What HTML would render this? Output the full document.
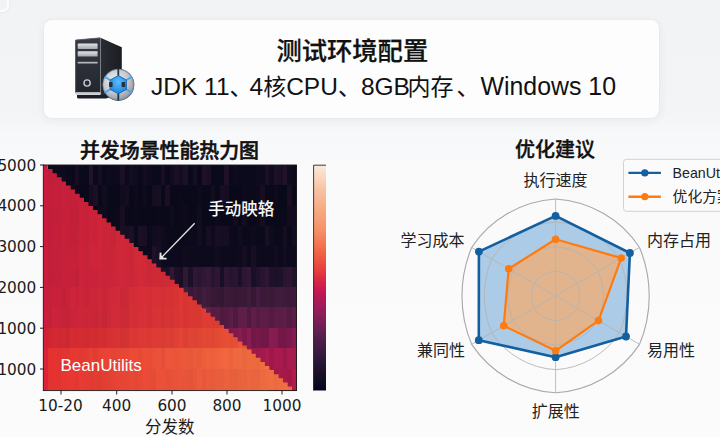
<!DOCTYPE html>
<html><head><meta charset="utf-8">
<style>
*{margin:0;padding:0;box-sizing:border-box}
html,body{width:720px;height:437px;overflow:hidden;background:linear-gradient(180deg,#f2f3f5 0px,#f3f4f6 112px,#f7f8f9 135px,#fafafb 175px,#fbfbfb 437px)}
body{position:relative;font-family:"Liberation Sans","Noto Sans CJK SC",sans-serif}
.ghost{position:absolute;left:-20px;top:-12px;width:29.3px;height:24.3px;border:2px solid #fdfdfe;border-radius:7px;box-shadow:0 1px 3px rgba(0,0,0,0.06)}
.card{position:absolute;left:44px;top:20px;width:614.5px;height:97.6px;background:#fdfdfd;border-radius:8px;box-shadow:0 2px 10px rgba(40,50,70,0.07),0 0 2px rgba(40,50,70,0.05)}
.t{position:absolute;white-space:nowrap;line-height:1}
.h1{left:276.4px;top:38.9px;font-size:25.3px;font-weight:500;-webkit-text-stroke:0.25px #111;color:#111;font-family:"Liberation Sans","Noto Sans CJK SC",sans-serif;letter-spacing:0px}
.h2{left:151px;top:74px;font-size:24.5px;color:#111;font-family:"Liberation Sans","Noto Sans CJK SC",sans-serif}
svg{position:absolute;left:0;top:0}
.c{font-size:23px;font-family:"Liberation Sans","Noto Sans CJK SC",sans-serif}
</style></head><body>
<div class="ghost"></div>
<div class="card"></div>
<svg width="720" height="437" viewBox="0 0 720 437">
<!-- server icon -->
<defs>
<linearGradient id="sf" x1="0" y1="0" x2="0" y2="1"><stop offset="0" stop-color="#363a43"/><stop offset="1" stop-color="#23262d"/></linearGradient>
<linearGradient id="ss" x1="0" y1="0" x2="1" y2="0"><stop offset="0" stop-color="#2a2d34"/><stop offset="1" stop-color="#1a1c21"/></linearGradient>
<linearGradient id="bay" x1="0" y1="0" x2="0" y2="1"><stop offset="0" stop-color="#e2e4e8"/><stop offset="1" stop-color="#a4a8ae"/></linearGradient>
<radialGradient id="ballg" cx="0.4" cy="0.35" r="0.7"><stop offset="0" stop-color="#eceef1"/><stop offset="0.6" stop-color="#c4c8ce"/><stop offset="1" stop-color="#8c9098"/></radialGradient>
<radialGradient id="hexg" cx="0.5" cy="0.35" r="0.7"><stop offset="0" stop-color="#5cbcff"/><stop offset="1" stop-color="#1c7fd6"/></radialGradient>
</defs>
<g>
  <polygon points="100.5,37.8 121.8,47.2 121.8,95 100.5,97" fill="url(#ss)"/>
  <polygon points="75.3,40 100.5,37.8 100.5,92.6 75.3,92.6" fill="url(#sf)"/>
  <polyline points="75.6,92.6 75.6,40.1 100.3,37.9" fill="none" stroke="#565a63" stroke-width="0.9"/>
  <line x1="100.5" y1="38" x2="100.5" y2="95" stroke="#7c8089" stroke-width="0.9"/>
  <rect x="77.7" y="43.4" width="19.9" height="5.5" rx="0.6" fill="url(#bay)"/>
  <rect x="77.7" y="51.2" width="19.9" height="5.4" rx="0.6" fill="url(#bay)"/>
  <rect x="77.7" y="61.8" width="19.9" height="1.7" fill="#b4b7bd"/>
  <circle cx="87.1" cy="83" r="3.1" fill="none" stroke="#c9ccd1" stroke-width="1.4"/>
  <rect x="75.3" y="92.2" width="25.4" height="2.5" rx="1.1" fill="#c5c8cd"/>
  <path d="M77,95 H101.5 L112,94 V96.8 L106,98.6 H78.6 Q77,98.6 77,97 Z" fill="#1b1e23"/>
</g>
<g>
  <circle cx="118.3" cy="84.7" r="16" fill="#1f3c62"/>
  <circle cx="118.3" cy="84.7" r="15.4" fill="url(#ballg)"/>
  <circle cx="118.3" cy="84.7" r="15.4" fill="none" stroke="#868b93" stroke-width="0.8"/>
  <path d="M118.3,68.8 V100.6" stroke="#1f3550" stroke-width="1.8"/>
  <path d="M104.5,76.7 L132.1,92.7 M104.5,92.7 L132.1,76.7" stroke="#3da4f4" stroke-width="1.7"/>
  <polygon points="118.3,75.6 126.4,80 126.4,89.4 118.3,93.8 110.2,89.4 110.2,80" fill="url(#hexg)" stroke="#1a6cc4" stroke-width="1"/>
  <rect x="109" y="82.1" width="3.6" height="4.9" rx="0.8" fill="#283038"/>
  <rect x="121.6" y="82.1" width="3.6" height="4.9" rx="0.8" fill="#283038"/>
</g>

<!-- heatmap -->
<g shape-rendering="crispEdges">
<clipPath id="stair"><polygon points="43.30,165.00 43.30,165.00 47.82,165.00 47.82,169.10 52.34,169.10 52.34,173.20 56.86,173.20 56.86,177.31 61.39,177.31 61.39,181.41 65.91,181.41 65.91,185.51 70.43,185.51 70.43,189.61 74.95,189.61 74.95,193.71 79.47,193.71 79.47,197.81 83.99,197.81 83.99,201.92 88.51,201.92 88.51,206.02 93.04,206.02 93.04,210.12 97.56,210.12 97.56,214.22 102.08,214.22 102.08,218.32 106.60,218.32 106.60,222.43 111.12,222.43 111.12,226.53 115.64,226.53 115.64,230.63 120.16,230.63 120.16,234.73 124.69,234.73 124.69,238.83 129.21,238.83 129.21,242.93 133.73,242.93 133.73,247.04 138.25,247.04 138.25,251.14 142.77,251.14 142.77,255.24 147.29,255.24 147.29,259.34 151.81,259.34 151.81,263.44 156.34,263.44 156.34,267.55 160.86,267.55 160.86,271.65 165.38,271.65 165.38,275.75 169.90,275.75 169.90,279.85 174.42,279.85 174.42,283.95 178.94,283.95 178.94,288.05 183.46,288.05 183.46,292.16 187.99,292.16 187.99,296.26 192.51,296.26 192.51,300.36 197.03,300.36 197.03,304.46 201.55,304.46 201.55,308.56 206.07,308.56 206.07,312.67 210.59,312.67 210.59,316.77 215.11,316.77 215.11,320.87 219.64,320.87 219.64,324.97 224.16,324.97 224.16,329.07 228.68,329.07 228.68,333.17 233.20,333.17 233.20,337.28 237.72,337.28 237.72,341.38 242.24,341.38 242.24,345.48 246.76,345.48 246.76,349.58 251.29,349.58 251.29,353.68 255.81,353.68 255.81,357.79 260.33,357.79 260.33,361.89 264.85,361.89 264.85,365.99 269.37,365.99 269.37,370.09 273.89,370.09 273.89,374.19 278.41,374.19 278.41,378.29 282.94,378.29 282.94,382.40 287.46,382.40 287.46,386.50 291.98,386.50 296.50,390.60 43.30,390.60"/></clipPath><rect x="47.82" y="165.00" width="4.82" height="20.60" fill="#0c0a1c"/>
<rect x="52.34" y="165.00" width="4.82" height="20.60" fill="#0b0a1c"/>
<rect x="56.86" y="165.00" width="4.82" height="20.60" fill="#0d0b1d"/>
<rect x="61.39" y="165.00" width="4.82" height="20.60" fill="#0e0b1e"/>
<rect x="65.91" y="165.00" width="4.82" height="20.60" fill="#0b0a1c"/>
<rect x="70.43" y="165.00" width="4.82" height="20.60" fill="#0b0a1c"/>
<rect x="74.95" y="165.00" width="4.82" height="20.60" fill="#180e24"/>
<rect x="79.47" y="165.00" width="4.82" height="20.60" fill="#0b0a1c"/>
<rect x="83.99" y="165.00" width="4.82" height="20.60" fill="#0b0a1c"/>
<rect x="88.51" y="165.00" width="4.82" height="20.60" fill="#22122a"/>
<rect x="93.04" y="165.00" width="4.82" height="20.60" fill="#0b0a1c"/>
<rect x="97.56" y="165.00" width="4.82" height="20.60" fill="#180e24"/>
<rect x="102.08" y="165.00" width="4.82" height="20.60" fill="#0b0a1c"/>
<rect x="106.60" y="165.00" width="4.82" height="20.60" fill="#0e0b1e"/>
<rect x="111.12" y="165.00" width="4.82" height="20.60" fill="#0b0a1c"/>
<rect x="115.64" y="165.00" width="4.82" height="20.60" fill="#0e0b1e"/>
<rect x="120.16" y="165.00" width="4.82" height="20.60" fill="#1a0f25"/>
<rect x="124.69" y="165.00" width="4.82" height="20.60" fill="#0b0a1c"/>
<rect x="129.21" y="165.00" width="4.82" height="20.60" fill="#130d21"/>
<rect x="133.73" y="165.00" width="4.82" height="20.60" fill="#100c1f"/>
<rect x="138.25" y="165.00" width="4.82" height="20.60" fill="#0b0a1c"/>
<rect x="142.77" y="165.00" width="4.82" height="20.60" fill="#140d21"/>
<rect x="147.29" y="165.00" width="4.82" height="20.60" fill="#0d0b1d"/>
<rect x="151.81" y="165.00" width="4.82" height="20.60" fill="#0b0a1c"/>
<rect x="156.34" y="165.00" width="4.82" height="20.60" fill="#0b0a1c"/>
<rect x="160.86" y="165.00" width="4.82" height="20.60" fill="#190f25"/>
<rect x="165.38" y="165.00" width="4.82" height="20.60" fill="#0b0a1c"/>
<rect x="169.90" y="165.00" width="4.82" height="20.60" fill="#120c20"/>
<rect x="174.42" y="165.00" width="4.82" height="20.60" fill="#1a0f25"/>
<rect x="178.94" y="165.00" width="4.82" height="20.60" fill="#110c20"/>
<rect x="183.46" y="165.00" width="4.82" height="20.60" fill="#1d1027"/>
<rect x="187.99" y="165.00" width="4.82" height="20.60" fill="#0b0a1c"/>
<rect x="192.51" y="165.00" width="4.82" height="20.60" fill="#160e23"/>
<rect x="197.03" y="165.00" width="4.82" height="20.60" fill="#0b0a1c"/>
<rect x="201.55" y="165.00" width="4.82" height="20.60" fill="#1e1127"/>
<rect x="206.07" y="165.00" width="4.82" height="20.60" fill="#1a0f25"/>
<rect x="210.59" y="165.00" width="4.82" height="20.60" fill="#0b0a1c"/>
<rect x="215.11" y="165.00" width="4.82" height="20.60" fill="#0b0a1c"/>
<rect x="219.64" y="165.00" width="4.82" height="20.60" fill="#0b0a1c"/>
<rect x="224.16" y="165.00" width="4.82" height="20.60" fill="#201129"/>
<rect x="228.68" y="165.00" width="4.82" height="20.60" fill="#0b0a1c"/>
<rect x="233.20" y="165.00" width="4.82" height="20.60" fill="#0e0b1e"/>
<rect x="237.72" y="165.00" width="4.82" height="20.60" fill="#0b0a1c"/>
<rect x="242.24" y="165.00" width="4.82" height="20.60" fill="#0b0a1c"/>
<rect x="246.76" y="165.00" width="4.82" height="20.60" fill="#0b0a1c"/>
<rect x="251.29" y="165.00" width="4.82" height="20.60" fill="#0b0a1c"/>
<rect x="255.81" y="165.00" width="4.82" height="20.60" fill="#0d0b1d"/>
<rect x="260.33" y="165.00" width="4.82" height="20.60" fill="#0d0b1d"/>
<rect x="264.85" y="165.00" width="4.82" height="20.60" fill="#1c1026"/>
<rect x="269.37" y="165.00" width="4.82" height="20.60" fill="#100c1f"/>
<rect x="273.89" y="165.00" width="4.82" height="20.60" fill="#1d1027"/>
<rect x="278.41" y="165.00" width="4.82" height="20.60" fill="#190f24"/>
<rect x="282.94" y="165.00" width="4.82" height="20.60" fill="#21122a"/>
<rect x="287.46" y="165.00" width="4.82" height="20.60" fill="#100c1f"/>
<rect x="291.98" y="165.00" width="4.82" height="20.60" fill="#0b0a1c"/>
<rect x="65.91" y="185.30" width="4.82" height="20.60" fill="#0a091a"/>
<rect x="70.43" y="185.30" width="4.82" height="20.60" fill="#130c1f"/>
<rect x="74.95" y="185.30" width="4.82" height="20.60" fill="#0b091b"/>
<rect x="79.47" y="185.30" width="4.82" height="20.60" fill="#0a091a"/>
<rect x="83.99" y="185.30" width="4.82" height="20.60" fill="#0a091a"/>
<rect x="88.51" y="185.30" width="4.82" height="20.60" fill="#140d20"/>
<rect x="93.04" y="185.30" width="4.82" height="20.60" fill="#1a0f24"/>
<rect x="97.56" y="185.30" width="4.82" height="20.60" fill="#0a091a"/>
<rect x="102.08" y="185.30" width="4.82" height="20.60" fill="#110c1f"/>
<rect x="106.60" y="185.30" width="4.82" height="20.60" fill="#0a091a"/>
<rect x="111.12" y="185.30" width="4.82" height="20.60" fill="#0a091a"/>
<rect x="115.64" y="185.30" width="4.82" height="20.60" fill="#0a091a"/>
<rect x="120.16" y="185.30" width="4.82" height="20.60" fill="#100b1e"/>
<rect x="124.69" y="185.30" width="4.82" height="20.60" fill="#140d20"/>
<rect x="129.21" y="185.30" width="4.82" height="20.60" fill="#0a091a"/>
<rect x="133.73" y="185.30" width="4.82" height="20.60" fill="#0c0a1b"/>
<rect x="138.25" y="185.30" width="4.82" height="20.60" fill="#0a091a"/>
<rect x="142.77" y="185.30" width="4.82" height="20.60" fill="#0f0b1d"/>
<rect x="147.29" y="185.30" width="4.82" height="20.60" fill="#0a091a"/>
<rect x="151.81" y="185.30" width="4.82" height="20.60" fill="#150d21"/>
<rect x="156.34" y="185.30" width="4.82" height="20.60" fill="#190f23"/>
<rect x="160.86" y="185.30" width="4.82" height="20.60" fill="#0a091a"/>
<rect x="165.38" y="185.30" width="4.82" height="20.60" fill="#1a0f24"/>
<rect x="169.90" y="185.30" width="4.82" height="20.60" fill="#0a091a"/>
<rect x="174.42" y="185.30" width="4.82" height="20.60" fill="#0a091a"/>
<rect x="178.94" y="185.30" width="4.82" height="20.60" fill="#0b0a1b"/>
<rect x="183.46" y="185.30" width="4.82" height="20.60" fill="#0a091a"/>
<rect x="187.99" y="185.30" width="4.82" height="20.60" fill="#0a091a"/>
<rect x="192.51" y="185.30" width="4.82" height="20.60" fill="#0a091a"/>
<rect x="197.03" y="185.30" width="4.82" height="20.60" fill="#0c0a1b"/>
<rect x="201.55" y="185.30" width="4.82" height="20.60" fill="#0a091a"/>
<rect x="206.07" y="185.30" width="4.82" height="20.60" fill="#0a091a"/>
<rect x="210.59" y="185.30" width="4.82" height="20.60" fill="#140d20"/>
<rect x="215.11" y="185.30" width="4.82" height="20.60" fill="#0a091a"/>
<rect x="219.64" y="185.30" width="4.82" height="20.60" fill="#180e23"/>
<rect x="224.16" y="185.30" width="4.82" height="20.60" fill="#150d21"/>
<rect x="228.68" y="185.30" width="4.82" height="20.60" fill="#0a091a"/>
<rect x="233.20" y="185.30" width="4.82" height="20.60" fill="#0a091a"/>
<rect x="237.72" y="185.30" width="4.82" height="20.60" fill="#0a091a"/>
<rect x="242.24" y="185.30" width="4.82" height="20.60" fill="#0c0a1c"/>
<rect x="246.76" y="185.30" width="4.82" height="20.60" fill="#0b0a1b"/>
<rect x="251.29" y="185.30" width="4.82" height="20.60" fill="#0b091a"/>
<rect x="255.81" y="185.30" width="4.82" height="20.60" fill="#0c0a1b"/>
<rect x="260.33" y="185.30" width="4.82" height="20.60" fill="#170e22"/>
<rect x="264.85" y="185.30" width="4.82" height="20.60" fill="#0a091a"/>
<rect x="269.37" y="185.30" width="4.82" height="20.60" fill="#0a091a"/>
<rect x="273.89" y="185.30" width="4.82" height="20.60" fill="#0f0b1d"/>
<rect x="278.41" y="185.30" width="4.82" height="20.60" fill="#0a091a"/>
<rect x="282.94" y="185.30" width="4.82" height="20.60" fill="#0a091a"/>
<rect x="287.46" y="185.30" width="4.82" height="20.60" fill="#190f23"/>
<rect x="291.98" y="185.30" width="4.82" height="20.60" fill="#0a091a"/>
<rect x="88.51" y="205.60" width="4.82" height="20.60" fill="#0d0a1c"/>
<rect x="93.04" y="205.60" width="4.82" height="20.60" fill="#0a091a"/>
<rect x="97.56" y="205.60" width="4.82" height="20.60" fill="#0e0b1d"/>
<rect x="102.08" y="205.60" width="4.82" height="20.60" fill="#0f0b1d"/>
<rect x="106.60" y="205.60" width="4.82" height="20.60" fill="#0a091a"/>
<rect x="111.12" y="205.60" width="4.82" height="20.60" fill="#0a091a"/>
<rect x="115.64" y="205.60" width="4.82" height="20.60" fill="#0d0a1c"/>
<rect x="120.16" y="205.60" width="4.82" height="20.60" fill="#180e23"/>
<rect x="124.69" y="205.60" width="4.82" height="20.60" fill="#0a091a"/>
<rect x="129.21" y="205.60" width="4.82" height="20.60" fill="#0a091a"/>
<rect x="133.73" y="205.60" width="4.82" height="20.60" fill="#0b091b"/>
<rect x="138.25" y="205.60" width="4.82" height="20.60" fill="#0a091a"/>
<rect x="142.77" y="205.60" width="4.82" height="20.60" fill="#0a091a"/>
<rect x="147.29" y="205.60" width="4.82" height="20.60" fill="#0a091a"/>
<rect x="151.81" y="205.60" width="4.82" height="20.60" fill="#0a091a"/>
<rect x="156.34" y="205.60" width="4.82" height="20.60" fill="#0b0a1b"/>
<rect x="160.86" y="205.60" width="4.82" height="20.60" fill="#0a091a"/>
<rect x="165.38" y="205.60" width="4.82" height="20.60" fill="#0a091a"/>
<rect x="169.90" y="205.60" width="4.82" height="20.60" fill="#100b1e"/>
<rect x="174.42" y="205.60" width="4.82" height="20.60" fill="#0a091a"/>
<rect x="178.94" y="205.60" width="4.82" height="20.60" fill="#0b091b"/>
<rect x="183.46" y="205.60" width="4.82" height="20.60" fill="#0f0b1d"/>
<rect x="187.99" y="205.60" width="4.82" height="20.60" fill="#0a091a"/>
<rect x="192.51" y="205.60" width="4.82" height="20.60" fill="#0a091a"/>
<rect x="197.03" y="205.60" width="4.82" height="20.60" fill="#120c1f"/>
<rect x="201.55" y="205.60" width="4.82" height="20.60" fill="#0a091a"/>
<rect x="206.07" y="205.60" width="4.82" height="20.60" fill="#0a091a"/>
<rect x="210.59" y="205.60" width="4.82" height="20.60" fill="#0a091a"/>
<rect x="215.11" y="205.60" width="4.82" height="20.60" fill="#0e0a1c"/>
<rect x="219.64" y="205.60" width="4.82" height="20.60" fill="#0a091a"/>
<rect x="224.16" y="205.60" width="4.82" height="20.60" fill="#0a091a"/>
<rect x="228.68" y="205.60" width="4.82" height="20.60" fill="#0a091a"/>
<rect x="233.20" y="205.60" width="4.82" height="20.60" fill="#130c1f"/>
<rect x="237.72" y="205.60" width="4.82" height="20.60" fill="#0a091a"/>
<rect x="242.24" y="205.60" width="4.82" height="20.60" fill="#140d20"/>
<rect x="246.76" y="205.60" width="4.82" height="20.60" fill="#0a091a"/>
<rect x="251.29" y="205.60" width="4.82" height="20.60" fill="#0a091a"/>
<rect x="255.81" y="205.60" width="4.82" height="20.60" fill="#0d0a1c"/>
<rect x="260.33" y="205.60" width="4.82" height="20.60" fill="#150d21"/>
<rect x="264.85" y="205.60" width="4.82" height="20.60" fill="#0a091a"/>
<rect x="269.37" y="205.60" width="4.82" height="20.60" fill="#0a091a"/>
<rect x="273.89" y="205.60" width="4.82" height="20.60" fill="#0a091a"/>
<rect x="278.41" y="205.60" width="4.82" height="20.60" fill="#0a091a"/>
<rect x="282.94" y="205.60" width="4.82" height="20.60" fill="#0a091a"/>
<rect x="287.46" y="205.60" width="4.82" height="20.60" fill="#120c1f"/>
<rect x="291.98" y="205.60" width="4.82" height="20.60" fill="#130c20"/>
<rect x="111.12" y="225.90" width="4.82" height="20.60" fill="#0b0a1b"/>
<rect x="115.64" y="225.90" width="4.82" height="20.60" fill="#0b0a1b"/>
<rect x="120.16" y="225.90" width="4.82" height="20.60" fill="#190f24"/>
<rect x="124.69" y="225.90" width="4.82" height="20.60" fill="#160e22"/>
<rect x="129.21" y="225.90" width="4.82" height="20.60" fill="#1b1026"/>
<rect x="133.73" y="225.90" width="4.82" height="20.60" fill="#0b0a1b"/>
<rect x="138.25" y="225.90" width="4.82" height="20.60" fill="#1a0f24"/>
<rect x="142.77" y="225.90" width="4.82" height="20.60" fill="#180f24"/>
<rect x="147.29" y="225.90" width="4.82" height="20.60" fill="#0b0a1b"/>
<rect x="151.81" y="225.90" width="4.82" height="20.60" fill="#110c1f"/>
<rect x="156.34" y="225.90" width="4.82" height="20.60" fill="#140d21"/>
<rect x="160.86" y="225.90" width="4.82" height="20.60" fill="#0e0b1d"/>
<rect x="165.38" y="225.90" width="4.82" height="20.60" fill="#0b0a1b"/>
<rect x="169.90" y="225.90" width="4.82" height="20.60" fill="#0b0a1b"/>
<rect x="174.42" y="225.90" width="4.82" height="20.60" fill="#0b0a1b"/>
<rect x="178.94" y="225.90" width="4.82" height="20.60" fill="#0b0a1b"/>
<rect x="183.46" y="225.90" width="4.82" height="20.60" fill="#0b0a1b"/>
<rect x="187.99" y="225.90" width="4.82" height="20.60" fill="#0c0a1c"/>
<rect x="192.51" y="225.90" width="4.82" height="20.60" fill="#0b0a1b"/>
<rect x="197.03" y="225.90" width="4.82" height="20.60" fill="#130d20"/>
<rect x="201.55" y="225.90" width="4.82" height="20.60" fill="#0b0a1b"/>
<rect x="206.07" y="225.90" width="4.82" height="20.60" fill="#170e23"/>
<rect x="210.59" y="225.90" width="4.82" height="20.60" fill="#0f0b1e"/>
<rect x="215.11" y="225.90" width="4.82" height="20.60" fill="#180f24"/>
<rect x="219.64" y="225.90" width="4.82" height="20.60" fill="#170e23"/>
<rect x="224.16" y="225.90" width="4.82" height="20.60" fill="#170e23"/>
<rect x="228.68" y="225.90" width="4.82" height="20.60" fill="#0c0a1c"/>
<rect x="233.20" y="225.90" width="4.82" height="20.60" fill="#0b0a1b"/>
<rect x="237.72" y="225.90" width="4.82" height="20.60" fill="#110c1f"/>
<rect x="242.24" y="225.90" width="4.82" height="20.60" fill="#0b0a1b"/>
<rect x="246.76" y="225.90" width="4.82" height="20.60" fill="#0b0a1b"/>
<rect x="251.29" y="225.90" width="4.82" height="20.60" fill="#0e0b1d"/>
<rect x="255.81" y="225.90" width="4.82" height="20.60" fill="#0b0a1b"/>
<rect x="260.33" y="225.90" width="4.82" height="20.60" fill="#0b0a1b"/>
<rect x="264.85" y="225.90" width="4.82" height="20.60" fill="#190f24"/>
<rect x="269.37" y="225.90" width="4.82" height="20.60" fill="#0d0b1c"/>
<rect x="273.89" y="225.90" width="4.82" height="20.60" fill="#0b0a1b"/>
<rect x="278.41" y="225.90" width="4.82" height="20.60" fill="#0b0a1b"/>
<rect x="282.94" y="225.90" width="4.82" height="20.60" fill="#150e22"/>
<rect x="287.46" y="225.90" width="4.82" height="20.60" fill="#0b0a1b"/>
<rect x="291.98" y="225.90" width="4.82" height="20.60" fill="#120d20"/>
<rect x="133.73" y="246.20" width="4.82" height="20.60" fill="#0c0a1c"/>
<rect x="138.25" y="246.20" width="4.82" height="20.60" fill="#0c0a1c"/>
<rect x="142.77" y="246.20" width="4.82" height="20.60" fill="#0c0a1c"/>
<rect x="147.29" y="246.20" width="4.82" height="20.60" fill="#0c0a1c"/>
<rect x="151.81" y="246.20" width="4.82" height="20.60" fill="#201128"/>
<rect x="156.34" y="246.20" width="4.82" height="20.60" fill="#190f24"/>
<rect x="160.86" y="246.20" width="4.82" height="20.60" fill="#0c0a1c"/>
<rect x="165.38" y="246.20" width="4.82" height="20.60" fill="#0c0a1c"/>
<rect x="169.90" y="246.20" width="4.82" height="20.60" fill="#0c0a1c"/>
<rect x="174.42" y="246.20" width="4.82" height="20.60" fill="#0c0a1c"/>
<rect x="178.94" y="246.20" width="4.82" height="20.60" fill="#0c0a1c"/>
<rect x="183.46" y="246.20" width="4.82" height="20.60" fill="#100b1e"/>
<rect x="187.99" y="246.20" width="4.82" height="20.60" fill="#0e0b1d"/>
<rect x="192.51" y="246.20" width="4.82" height="20.60" fill="#0c0a1c"/>
<rect x="197.03" y="246.20" width="4.82" height="20.60" fill="#0c0a1c"/>
<rect x="201.55" y="246.20" width="4.82" height="20.60" fill="#0c0a1c"/>
<rect x="206.07" y="246.20" width="4.82" height="20.60" fill="#0c0a1c"/>
<rect x="210.59" y="246.20" width="4.82" height="20.60" fill="#0d0a1c"/>
<rect x="215.11" y="246.20" width="4.82" height="20.60" fill="#120c20"/>
<rect x="219.64" y="246.20" width="4.82" height="20.60" fill="#0c0a1c"/>
<rect x="224.16" y="246.20" width="4.82" height="20.60" fill="#0c0a1c"/>
<rect x="228.68" y="246.20" width="4.82" height="20.60" fill="#0c0a1c"/>
<rect x="233.20" y="246.20" width="4.82" height="20.60" fill="#0c0a1c"/>
<rect x="237.72" y="246.20" width="4.82" height="20.60" fill="#0e0b1d"/>
<rect x="242.24" y="246.20" width="4.82" height="20.60" fill="#150d22"/>
<rect x="246.76" y="246.20" width="4.82" height="20.60" fill="#0c0a1c"/>
<rect x="251.29" y="246.20" width="4.82" height="20.60" fill="#160e22"/>
<rect x="255.81" y="246.20" width="4.82" height="20.60" fill="#0f0b1e"/>
<rect x="260.33" y="246.20" width="4.82" height="20.60" fill="#0c0a1c"/>
<rect x="264.85" y="246.20" width="4.82" height="20.60" fill="#0c0a1c"/>
<rect x="269.37" y="246.20" width="4.82" height="20.60" fill="#0c0a1c"/>
<rect x="273.89" y="246.20" width="4.82" height="20.60" fill="#120c1f"/>
<rect x="278.41" y="246.20" width="4.82" height="20.60" fill="#0c0a1c"/>
<rect x="282.94" y="246.20" width="4.82" height="20.60" fill="#110c1f"/>
<rect x="287.46" y="246.20" width="4.82" height="20.60" fill="#0c0a1c"/>
<rect x="291.98" y="246.20" width="4.82" height="20.60" fill="#0c0a1c"/>
<rect x="156.34" y="266.50" width="4.82" height="20.80" fill="#180f27"/>
<rect x="160.86" y="266.50" width="4.82" height="20.80" fill="#1a1028"/>
<rect x="165.38" y="266.50" width="4.82" height="20.80" fill="#1a1028"/>
<rect x="169.90" y="266.50" width="4.82" height="20.80" fill="#311736"/>
<rect x="174.42" y="266.50" width="4.82" height="20.80" fill="#1c1129"/>
<rect x="178.94" y="266.50" width="4.82" height="20.80" fill="#180f26"/>
<rect x="183.46" y="266.50" width="4.82" height="20.80" fill="#2f1735"/>
<rect x="187.99" y="266.50" width="4.82" height="20.80" fill="#1b1028"/>
<rect x="192.51" y="266.50" width="4.82" height="20.80" fill="#2f1735"/>
<rect x="197.03" y="266.50" width="4.82" height="20.80" fill="#2b1532"/>
<rect x="201.55" y="266.50" width="4.82" height="20.80" fill="#2f1735"/>
<rect x="206.07" y="266.50" width="4.82" height="20.80" fill="#331837"/>
<rect x="210.59" y="266.50" width="4.82" height="20.80" fill="#281430"/>
<rect x="215.11" y="266.50" width="4.82" height="20.80" fill="#2e1634"/>
<rect x="219.64" y="266.50" width="4.82" height="20.80" fill="#180f27"/>
<rect x="224.16" y="266.50" width="4.82" height="20.80" fill="#2d1634"/>
<rect x="228.68" y="266.50" width="4.82" height="20.80" fill="#26142f"/>
<rect x="233.20" y="266.50" width="4.82" height="20.80" fill="#2c1533"/>
<rect x="237.72" y="266.50" width="4.82" height="20.80" fill="#1a1028"/>
<rect x="242.24" y="266.50" width="4.82" height="20.80" fill="#2d1633"/>
<rect x="246.76" y="266.50" width="4.82" height="20.80" fill="#321737"/>
<rect x="251.29" y="266.50" width="4.82" height="20.80" fill="#191027"/>
<rect x="255.81" y="266.50" width="4.82" height="20.80" fill="#20122c"/>
<rect x="260.33" y="266.50" width="4.82" height="20.80" fill="#271430"/>
<rect x="264.85" y="266.50" width="4.82" height="20.80" fill="#2f1635"/>
<rect x="269.37" y="266.50" width="4.82" height="20.80" fill="#1e112a"/>
<rect x="273.89" y="266.50" width="4.82" height="20.80" fill="#1c1129"/>
<rect x="278.41" y="266.50" width="4.82" height="20.80" fill="#1e112a"/>
<rect x="282.94" y="266.50" width="4.82" height="20.80" fill="#291531"/>
<rect x="287.46" y="266.50" width="4.82" height="20.80" fill="#2d1634"/>
<rect x="291.98" y="266.50" width="4.82" height="20.80" fill="#22132d"/>
<rect x="178.94" y="287.00" width="4.82" height="20.50" fill="#3e1b3b"/>
<rect x="183.46" y="287.00" width="4.82" height="20.50" fill="#411d3e"/>
<rect x="187.99" y="287.00" width="4.82" height="20.50" fill="#381935"/>
<rect x="192.51" y="287.00" width="4.82" height="20.50" fill="#3e1b3b"/>
<rect x="197.03" y="287.00" width="4.82" height="20.50" fill="#3a1937"/>
<rect x="201.55" y="287.00" width="4.82" height="20.50" fill="#401c3d"/>
<rect x="206.07" y="287.00" width="4.82" height="20.50" fill="#3c1b39"/>
<rect x="210.59" y="287.00" width="4.82" height="20.50" fill="#381935"/>
<rect x="215.11" y="287.00" width="4.82" height="20.50" fill="#371834"/>
<rect x="219.64" y="287.00" width="4.82" height="20.50" fill="#341732"/>
<rect x="224.16" y="287.00" width="4.82" height="20.50" fill="#3b1a38"/>
<rect x="228.68" y="287.00" width="4.82" height="20.50" fill="#391936"/>
<rect x="233.20" y="287.00" width="4.82" height="20.50" fill="#361834"/>
<rect x="237.72" y="287.00" width="4.82" height="20.50" fill="#391936"/>
<rect x="242.24" y="287.00" width="4.82" height="20.50" fill="#381936"/>
<rect x="246.76" y="287.00" width="4.82" height="20.50" fill="#3f1c3c"/>
<rect x="251.29" y="287.00" width="4.82" height="20.50" fill="#361833"/>
<rect x="255.81" y="287.00" width="4.82" height="20.50" fill="#421d3f"/>
<rect x="260.33" y="287.00" width="4.82" height="20.50" fill="#3b1a38"/>
<rect x="264.85" y="287.00" width="4.82" height="20.50" fill="#3c1b39"/>
<rect x="269.37" y="287.00" width="4.82" height="20.50" fill="#3b1a38"/>
<rect x="273.89" y="287.00" width="4.82" height="20.50" fill="#401c3c"/>
<rect x="278.41" y="287.00" width="4.82" height="20.50" fill="#401c3c"/>
<rect x="282.94" y="287.00" width="4.82" height="20.50" fill="#3c1a39"/>
<rect x="287.46" y="287.00" width="4.82" height="20.50" fill="#3b1a38"/>
<rect x="291.98" y="287.00" width="4.82" height="20.50" fill="#3e1b3b"/>
<rect x="201.55" y="307.20" width="4.82" height="20.70" fill="#581c45"/>
<rect x="206.07" y="307.20" width="4.82" height="20.70" fill="#5f1f4a"/>
<rect x="210.59" y="307.20" width="4.82" height="20.70" fill="#551b43"/>
<rect x="215.11" y="307.20" width="4.82" height="20.70" fill="#581c45"/>
<rect x="219.64" y="307.20" width="4.82" height="20.70" fill="#501a3f"/>
<rect x="224.16" y="307.20" width="4.82" height="20.70" fill="#531b41"/>
<rect x="228.68" y="307.20" width="4.82" height="20.70" fill="#5a1d46"/>
<rect x="233.20" y="307.20" width="4.82" height="20.70" fill="#501a3f"/>
<rect x="237.72" y="307.20" width="4.82" height="20.70" fill="#5e1e49"/>
<rect x="242.24" y="307.20" width="4.82" height="20.70" fill="#5e1e4a"/>
<rect x="246.76" y="307.20" width="4.82" height="20.70" fill="#501a3f"/>
<rect x="251.29" y="307.20" width="4.82" height="20.70" fill="#5f1e4a"/>
<rect x="255.81" y="307.20" width="4.82" height="20.70" fill="#551b42"/>
<rect x="260.33" y="307.20" width="4.82" height="20.70" fill="#5c1e48"/>
<rect x="264.85" y="307.20" width="4.82" height="20.70" fill="#5b1d47"/>
<rect x="269.37" y="307.20" width="4.82" height="20.70" fill="#531b41"/>
<rect x="273.89" y="307.20" width="4.82" height="20.70" fill="#5a1d46"/>
<rect x="278.41" y="307.20" width="4.82" height="20.70" fill="#5a1d46"/>
<rect x="282.94" y="307.20" width="4.82" height="20.70" fill="#5c1e48"/>
<rect x="287.46" y="307.20" width="4.82" height="20.70" fill="#531b41"/>
<rect x="291.98" y="307.20" width="4.82" height="20.70" fill="#5b1d47"/>
<rect x="224.16" y="327.60" width="4.82" height="21.10" fill="#79194a"/>
<rect x="228.68" y="327.60" width="4.82" height="21.10" fill="#7b194b"/>
<rect x="233.20" y="327.60" width="4.82" height="21.10" fill="#7f1a4e"/>
<rect x="237.72" y="327.60" width="4.82" height="21.10" fill="#861c52"/>
<rect x="242.24" y="327.60" width="4.82" height="21.10" fill="#7a194a"/>
<rect x="246.76" y="327.60" width="4.82" height="21.10" fill="#881c53"/>
<rect x="251.29" y="327.60" width="4.82" height="21.10" fill="#721846"/>
<rect x="255.81" y="327.60" width="4.82" height="21.10" fill="#771949"/>
<rect x="260.33" y="327.60" width="4.82" height="21.10" fill="#721846"/>
<rect x="264.85" y="327.60" width="4.82" height="21.10" fill="#721846"/>
<rect x="269.37" y="327.60" width="4.82" height="21.10" fill="#861c52"/>
<rect x="273.89" y="327.60" width="4.82" height="21.10" fill="#851b51"/>
<rect x="278.41" y="327.60" width="4.82" height="21.10" fill="#741847"/>
<rect x="282.94" y="327.60" width="4.82" height="21.10" fill="#751847"/>
<rect x="287.46" y="327.60" width="4.82" height="21.10" fill="#7b194b"/>
<rect x="291.98" y="327.60" width="4.82" height="21.10" fill="#851c51"/>
<rect x="246.76" y="348.40" width="4.82" height="21.30" fill="#a0194b"/>
<rect x="251.29" y="348.40" width="4.82" height="21.30" fill="#9e184a"/>
<rect x="255.81" y="348.40" width="4.82" height="21.30" fill="#9b1848"/>
<rect x="260.33" y="348.40" width="4.82" height="21.30" fill="#a4194c"/>
<rect x="264.85" y="348.40" width="4.82" height="21.30" fill="#ab1a50"/>
<rect x="269.37" y="348.40" width="4.82" height="21.30" fill="#a0184a"/>
<rect x="273.89" y="348.40" width="4.82" height="21.30" fill="#aa1a4f"/>
<rect x="278.41" y="348.40" width="4.82" height="21.30" fill="#a71a4e"/>
<rect x="282.94" y="348.40" width="4.82" height="21.30" fill="#9c1849"/>
<rect x="287.46" y="348.40" width="4.82" height="21.30" fill="#aa1a4f"/>
<rect x="291.98" y="348.40" width="4.82" height="21.30" fill="#a5194d"/>
<rect x="269.37" y="369.40" width="4.82" height="21.40" fill="#ac1a4c"/>
<rect x="273.89" y="369.40" width="4.82" height="21.40" fill="#a11847"/>
<rect x="278.41" y="369.40" width="4.82" height="21.40" fill="#a71949"/>
<rect x="282.94" y="369.40" width="4.82" height="21.40" fill="#a71949"/>
<rect x="287.46" y="369.40" width="4.82" height="21.40" fill="#a11846"/>
<rect x="291.98" y="369.40" width="4.82" height="21.40" fill="#b11a4d"/>
<g clip-path="url(#stair)">
<rect x="43.30" y="165.00" width="4.82" height="20.60" fill="#cc193d"/>
<rect x="47.82" y="165.00" width="4.82" height="20.60" fill="#c01d3a"/>
<rect x="52.34" y="165.00" width="4.82" height="20.60" fill="#c41e3b"/>
<rect x="56.86" y="165.00" width="4.82" height="20.60" fill="#c21f3a"/>
<rect x="61.39" y="165.00" width="4.82" height="20.60" fill="#c81f3b"/>
<rect x="43.30" y="185.30" width="4.82" height="20.60" fill="#cd193d"/>
<rect x="47.82" y="185.30" width="4.82" height="20.60" fill="#c21e3a"/>
<rect x="52.34" y="185.30" width="4.82" height="20.60" fill="#c61e3b"/>
<rect x="56.86" y="185.30" width="4.82" height="20.60" fill="#c31f3a"/>
<rect x="61.39" y="185.30" width="4.82" height="20.60" fill="#c81f3c"/>
<rect x="65.91" y="185.30" width="4.82" height="20.60" fill="#c5203a"/>
<rect x="70.43" y="185.30" width="4.82" height="20.60" fill="#c4203a"/>
<rect x="74.95" y="185.30" width="4.82" height="20.60" fill="#c4203a"/>
<rect x="79.47" y="185.30" width="4.82" height="20.60" fill="#ca213b"/>
<rect x="83.99" y="185.30" width="4.82" height="20.60" fill="#c5213a"/>
<rect x="43.30" y="205.60" width="4.82" height="20.60" fill="#cc193d"/>
<rect x="47.82" y="205.60" width="4.82" height="20.60" fill="#bf1d39"/>
<rect x="52.34" y="205.60" width="4.82" height="20.60" fill="#c41e3b"/>
<rect x="56.86" y="205.60" width="4.82" height="20.60" fill="#c31f3a"/>
<rect x="61.39" y="205.60" width="4.82" height="20.60" fill="#c61f3a"/>
<rect x="65.91" y="205.60" width="4.82" height="20.60" fill="#c6203a"/>
<rect x="70.43" y="205.60" width="4.82" height="20.60" fill="#c41f39"/>
<rect x="74.95" y="205.60" width="4.82" height="20.60" fill="#c22038"/>
<rect x="79.47" y="205.60" width="4.82" height="20.60" fill="#cb213b"/>
<rect x="83.99" y="205.60" width="4.82" height="20.60" fill="#c72239"/>
<rect x="88.51" y="205.60" width="4.82" height="20.60" fill="#cc233b"/>
<rect x="93.04" y="205.60" width="4.82" height="20.60" fill="#c9233a"/>
<rect x="97.56" y="205.60" width="4.82" height="20.60" fill="#cf243a"/>
<rect x="102.08" y="205.60" width="4.82" height="20.60" fill="#ca2439"/>
<rect x="106.60" y="205.60" width="4.82" height="20.60" fill="#c82438"/>
<rect x="43.30" y="225.90" width="4.82" height="20.60" fill="#cc193d"/>
<rect x="47.82" y="225.90" width="4.82" height="20.60" fill="#c01d3a"/>
<rect x="52.34" y="225.90" width="4.82" height="20.60" fill="#c61e3b"/>
<rect x="56.86" y="225.90" width="4.82" height="20.60" fill="#c31f39"/>
<rect x="61.39" y="225.90" width="4.82" height="20.60" fill="#c81f3b"/>
<rect x="65.91" y="225.90" width="4.82" height="20.60" fill="#c52039"/>
<rect x="70.43" y="225.90" width="4.82" height="20.60" fill="#c21f39"/>
<rect x="74.95" y="225.90" width="4.82" height="20.60" fill="#c32039"/>
<rect x="79.47" y="225.90" width="4.82" height="20.60" fill="#cb223a"/>
<rect x="83.99" y="225.90" width="4.82" height="20.60" fill="#c62138"/>
<rect x="88.51" y="225.90" width="4.82" height="20.60" fill="#cc233a"/>
<rect x="93.04" y="225.90" width="4.82" height="20.60" fill="#c92339"/>
<rect x="97.56" y="225.90" width="4.82" height="20.60" fill="#cf253a"/>
<rect x="102.08" y="225.90" width="4.82" height="20.60" fill="#c92437"/>
<rect x="106.60" y="225.90" width="4.82" height="20.60" fill="#cb2538"/>
<rect x="111.12" y="225.90" width="4.82" height="20.60" fill="#c82437"/>
<rect x="115.64" y="225.90" width="4.82" height="20.60" fill="#cf2638"/>
<rect x="120.16" y="225.90" width="4.82" height="20.60" fill="#d02739"/>
<rect x="124.69" y="225.90" width="4.82" height="20.60" fill="#ce2737"/>
<rect x="129.21" y="225.90" width="4.82" height="20.60" fill="#cc2736"/>
<rect x="43.30" y="246.20" width="4.82" height="20.60" fill="#cd1a3d"/>
<rect x="47.82" y="246.20" width="4.82" height="20.60" fill="#c11e3a"/>
<rect x="52.34" y="246.20" width="4.82" height="20.60" fill="#c61f3b"/>
<rect x="56.86" y="246.20" width="4.82" height="20.60" fill="#c52039"/>
<rect x="61.39" y="246.20" width="4.82" height="20.60" fill="#c7203a"/>
<rect x="65.91" y="246.20" width="4.82" height="20.60" fill="#c7213a"/>
<rect x="70.43" y="246.20" width="4.82" height="20.60" fill="#c62139"/>
<rect x="74.95" y="246.20" width="4.82" height="20.60" fill="#c52139"/>
<rect x="79.47" y="246.20" width="4.82" height="20.60" fill="#cc233a"/>
<rect x="83.99" y="246.20" width="4.82" height="20.60" fill="#c62238"/>
<rect x="88.51" y="246.20" width="4.82" height="20.60" fill="#cd243a"/>
<rect x="93.04" y="246.20" width="4.82" height="20.60" fill="#cc2439"/>
<rect x="97.56" y="246.20" width="4.82" height="20.60" fill="#ce253a"/>
<rect x="102.08" y="246.20" width="4.82" height="20.60" fill="#c92437"/>
<rect x="106.60" y="246.20" width="4.82" height="20.60" fill="#c92437"/>
<rect x="111.12" y="246.20" width="4.82" height="20.60" fill="#cb2637"/>
<rect x="115.64" y="246.20" width="4.82" height="20.60" fill="#d02739"/>
<rect x="120.16" y="246.20" width="4.82" height="20.60" fill="#cf2738"/>
<rect x="124.69" y="246.20" width="4.82" height="20.60" fill="#cd2737"/>
<rect x="129.21" y="246.20" width="4.82" height="20.60" fill="#c92735"/>
<rect x="133.73" y="246.20" width="4.82" height="20.60" fill="#d02937"/>
<rect x="138.25" y="246.20" width="4.82" height="20.60" fill="#d42a38"/>
<rect x="142.77" y="246.20" width="4.82" height="20.60" fill="#d12a37"/>
<rect x="147.29" y="246.20" width="4.82" height="20.60" fill="#ca2934"/>
<rect x="151.81" y="246.20" width="4.82" height="20.60" fill="#cf2a35"/>
<rect x="43.30" y="266.50" width="4.82" height="20.80" fill="#cd1a3d"/>
<rect x="47.82" y="266.50" width="4.82" height="20.80" fill="#c21e3a"/>
<rect x="52.34" y="266.50" width="4.82" height="20.80" fill="#c31f3b"/>
<rect x="56.86" y="266.50" width="4.82" height="20.80" fill="#c21f3a"/>
<rect x="61.39" y="266.50" width="4.82" height="20.80" fill="#c7203b"/>
<rect x="65.91" y="266.50" width="4.82" height="20.80" fill="#c6203b"/>
<rect x="70.43" y="266.50" width="4.82" height="20.80" fill="#c52139"/>
<rect x="74.95" y="266.50" width="4.82" height="20.80" fill="#c22039"/>
<rect x="79.47" y="266.50" width="4.82" height="20.80" fill="#cc223b"/>
<rect x="83.99" y="266.50" width="4.82" height="20.80" fill="#c7223a"/>
<rect x="88.51" y="266.50" width="4.82" height="20.80" fill="#ca223b"/>
<rect x="93.04" y="266.50" width="4.82" height="20.80" fill="#c9233a"/>
<rect x="97.56" y="266.50" width="4.82" height="20.80" fill="#cc243b"/>
<rect x="102.08" y="266.50" width="4.82" height="20.80" fill="#c92439"/>
<rect x="106.60" y="266.50" width="4.82" height="20.80" fill="#c92438"/>
<rect x="111.12" y="266.50" width="4.82" height="20.80" fill="#ca2539"/>
<rect x="115.64" y="266.50" width="4.82" height="20.80" fill="#d0263a"/>
<rect x="120.16" y="266.50" width="4.82" height="20.80" fill="#ce263a"/>
<rect x="124.69" y="266.50" width="4.82" height="20.80" fill="#cc2639"/>
<rect x="129.21" y="266.50" width="4.82" height="20.80" fill="#ca2637"/>
<rect x="133.73" y="266.50" width="4.82" height="20.80" fill="#cf2838"/>
<rect x="138.25" y="266.50" width="4.82" height="20.80" fill="#d42939"/>
<rect x="142.77" y="266.50" width="4.82" height="20.80" fill="#ce2938"/>
<rect x="147.29" y="266.50" width="4.82" height="20.80" fill="#ca2836"/>
<rect x="151.81" y="266.50" width="4.82" height="20.80" fill="#cd2936"/>
<rect x="156.34" y="266.50" width="4.82" height="20.80" fill="#cc2a35"/>
<rect x="160.86" y="266.50" width="4.82" height="20.80" fill="#cd2a36"/>
<rect x="165.38" y="266.50" width="4.82" height="20.80" fill="#cd2b35"/>
<rect x="169.90" y="266.50" width="4.82" height="20.80" fill="#d12c35"/>
<rect x="174.42" y="266.50" width="4.82" height="20.80" fill="#d52d36"/>
<rect x="43.30" y="287.00" width="4.82" height="20.50" fill="#ce1b3d"/>
<rect x="47.82" y="287.00" width="4.82" height="20.50" fill="#c42039"/>
<rect x="52.34" y="287.00" width="4.82" height="20.50" fill="#c9213b"/>
<rect x="56.86" y="287.00" width="4.82" height="20.50" fill="#c7223a"/>
<rect x="61.39" y="287.00" width="4.82" height="20.50" fill="#c42139"/>
<rect x="65.91" y="287.00" width="4.82" height="20.50" fill="#c62239"/>
<rect x="70.43" y="287.00" width="4.82" height="20.50" fill="#cd243a"/>
<rect x="74.95" y="287.00" width="4.82" height="20.50" fill="#ca2339"/>
<rect x="79.47" y="287.00" width="4.82" height="20.50" fill="#cd253a"/>
<rect x="83.99" y="287.00" width="4.82" height="20.50" fill="#c72438"/>
<rect x="88.51" y="287.00" width="4.82" height="20.50" fill="#cc2539"/>
<rect x="93.04" y="287.00" width="4.82" height="20.50" fill="#ca2638"/>
<rect x="97.56" y="287.00" width="4.82" height="20.50" fill="#cf2739"/>
<rect x="102.08" y="287.00" width="4.82" height="20.50" fill="#c82637"/>
<rect x="106.60" y="287.00" width="4.82" height="20.50" fill="#cd2738"/>
<rect x="111.12" y="287.00" width="4.82" height="20.50" fill="#d12939"/>
<rect x="115.64" y="287.00" width="4.82" height="20.50" fill="#d22a39"/>
<rect x="120.16" y="287.00" width="4.82" height="20.50" fill="#c92836"/>
<rect x="124.69" y="287.00" width="4.82" height="20.50" fill="#cc2936"/>
<rect x="129.21" y="287.00" width="4.82" height="20.50" fill="#d62c38"/>
<rect x="133.73" y="287.00" width="4.82" height="20.50" fill="#d52d38"/>
<rect x="138.25" y="287.00" width="4.82" height="20.50" fill="#d62d38"/>
<rect x="142.77" y="287.00" width="4.82" height="20.50" fill="#d72e37"/>
<rect x="147.29" y="287.00" width="4.82" height="20.50" fill="#d42e36"/>
<rect x="151.81" y="287.00" width="4.82" height="20.50" fill="#d83037"/>
<rect x="156.34" y="287.00" width="4.82" height="20.50" fill="#d73036"/>
<rect x="160.86" y="287.00" width="4.82" height="20.50" fill="#d32f34"/>
<rect x="165.38" y="287.00" width="4.82" height="20.50" fill="#d63135"/>
<rect x="169.90" y="287.00" width="4.82" height="20.50" fill="#d33134"/>
<rect x="174.42" y="287.00" width="4.82" height="20.50" fill="#d73234"/>
<rect x="178.94" y="287.00" width="4.82" height="20.50" fill="#e03535"/>
<rect x="183.46" y="287.00" width="4.82" height="20.50" fill="#d93433"/>
<rect x="187.99" y="287.00" width="4.82" height="20.50" fill="#dc3634"/>
<rect x="192.51" y="287.00" width="4.82" height="20.50" fill="#d93532"/>
<rect x="197.03" y="287.00" width="4.82" height="20.50" fill="#d83632"/>
<rect x="43.30" y="307.20" width="4.82" height="20.70" fill="#cf1b3d"/>
<rect x="47.82" y="307.20" width="4.82" height="20.70" fill="#c32138"/>
<rect x="52.34" y="307.20" width="4.82" height="20.70" fill="#ca233a"/>
<rect x="56.86" y="307.20" width="4.82" height="20.70" fill="#c92339"/>
<rect x="61.39" y="307.20" width="4.82" height="20.70" fill="#c52338"/>
<rect x="65.91" y="307.20" width="4.82" height="20.70" fill="#c42338"/>
<rect x="70.43" y="307.20" width="4.82" height="20.70" fill="#c92439"/>
<rect x="74.95" y="307.20" width="4.82" height="20.70" fill="#cb2539"/>
<rect x="79.47" y="307.20" width="4.82" height="20.70" fill="#cc2639"/>
<rect x="83.99" y="307.20" width="4.82" height="20.70" fill="#cb2638"/>
<rect x="88.51" y="307.20" width="4.82" height="20.70" fill="#cb2638"/>
<rect x="93.04" y="307.20" width="4.82" height="20.70" fill="#c62637"/>
<rect x="97.56" y="307.20" width="4.82" height="20.70" fill="#cc2838"/>
<rect x="102.08" y="307.20" width="4.82" height="20.70" fill="#c62736"/>
<rect x="106.60" y="307.20" width="4.82" height="20.70" fill="#cb2937"/>
<rect x="111.12" y="307.20" width="4.82" height="20.70" fill="#d02b38"/>
<rect x="115.64" y="307.20" width="4.82" height="20.70" fill="#d12b38"/>
<rect x="120.16" y="307.20" width="4.82" height="20.70" fill="#cc2a36"/>
<rect x="124.69" y="307.20" width="4.82" height="20.70" fill="#cc2b36"/>
<rect x="129.21" y="307.20" width="4.82" height="20.70" fill="#d52e37"/>
<rect x="133.73" y="307.20" width="4.82" height="20.70" fill="#d22e36"/>
<rect x="138.25" y="307.20" width="4.82" height="20.70" fill="#d62f37"/>
<rect x="142.77" y="307.20" width="4.82" height="20.70" fill="#d83037"/>
<rect x="147.29" y="307.20" width="4.82" height="20.70" fill="#d22f35"/>
<rect x="151.81" y="307.20" width="4.82" height="20.70" fill="#d63237"/>
<rect x="156.34" y="307.20" width="4.82" height="20.70" fill="#d93336"/>
<rect x="160.86" y="307.20" width="4.82" height="20.70" fill="#d33234"/>
<rect x="165.38" y="307.20" width="4.82" height="20.70" fill="#d53435"/>
<rect x="169.90" y="307.20" width="4.82" height="20.70" fill="#d43334"/>
<rect x="174.42" y="307.20" width="4.82" height="20.70" fill="#d93534"/>
<rect x="178.94" y="307.20" width="4.82" height="20.70" fill="#dd3735"/>
<rect x="183.46" y="307.20" width="4.82" height="20.70" fill="#d63633"/>
<rect x="187.99" y="307.20" width="4.82" height="20.70" fill="#db3834"/>
<rect x="192.51" y="307.20" width="4.82" height="20.70" fill="#d83833"/>
<rect x="197.03" y="307.20" width="4.82" height="20.70" fill="#d73832"/>
<rect x="201.55" y="307.20" width="4.82" height="20.70" fill="#e03c33"/>
<rect x="206.07" y="307.20" width="4.82" height="20.70" fill="#de3c33"/>
<rect x="210.59" y="307.20" width="4.82" height="20.70" fill="#da3b32"/>
<rect x="215.11" y="307.20" width="4.82" height="20.70" fill="#dd3d31"/>
<rect x="219.64" y="307.20" width="4.82" height="20.70" fill="#e23f32"/>
<rect x="43.30" y="327.60" width="4.82" height="21.10" fill="#d31d3a"/>
<rect x="47.82" y="327.60" width="4.82" height="21.10" fill="#ce2731"/>
<rect x="52.34" y="327.60" width="4.82" height="21.10" fill="#d32933"/>
<rect x="56.86" y="327.60" width="4.82" height="21.10" fill="#cf2832"/>
<rect x="61.39" y="327.60" width="4.82" height="21.10" fill="#cf2931"/>
<rect x="65.91" y="327.60" width="4.82" height="21.10" fill="#cd2831"/>
<rect x="70.43" y="327.60" width="4.82" height="21.10" fill="#d52b33"/>
<rect x="74.95" y="327.60" width="4.82" height="21.10" fill="#d42a32"/>
<rect x="79.47" y="327.60" width="4.82" height="21.10" fill="#d42c33"/>
<rect x="83.99" y="327.60" width="4.82" height="21.10" fill="#d02b31"/>
<rect x="88.51" y="327.60" width="4.82" height="21.10" fill="#d32d32"/>
<rect x="93.04" y="327.60" width="4.82" height="21.10" fill="#d12c31"/>
<rect x="97.56" y="327.60" width="4.82" height="21.10" fill="#d52e32"/>
<rect x="102.08" y="327.60" width="4.82" height="21.10" fill="#d22e32"/>
<rect x="106.60" y="327.60" width="4.82" height="21.10" fill="#d53033"/>
<rect x="111.12" y="327.60" width="4.82" height="21.10" fill="#d73133"/>
<rect x="115.64" y="327.60" width="4.82" height="21.10" fill="#da3334"/>
<rect x="120.16" y="327.60" width="4.82" height="21.10" fill="#d13232"/>
<rect x="124.69" y="327.60" width="4.82" height="21.10" fill="#d33332"/>
<rect x="129.21" y="327.60" width="4.82" height="21.10" fill="#dd3634"/>
<rect x="133.73" y="327.60" width="4.82" height="21.10" fill="#da3633"/>
<rect x="138.25" y="327.60" width="4.82" height="21.10" fill="#dd3834"/>
<rect x="142.77" y="327.60" width="4.82" height="21.10" fill="#df3934"/>
<rect x="147.29" y="327.60" width="4.82" height="21.10" fill="#d93933"/>
<rect x="151.81" y="327.60" width="4.82" height="21.10" fill="#df3b34"/>
<rect x="156.34" y="327.60" width="4.82" height="21.10" fill="#dd3b33"/>
<rect x="160.86" y="327.60" width="4.82" height="21.10" fill="#d83c32"/>
<rect x="165.38" y="327.60" width="4.82" height="21.10" fill="#dd3e33"/>
<rect x="169.90" y="327.60" width="4.82" height="21.10" fill="#da3e33"/>
<rect x="174.42" y="327.60" width="4.82" height="21.10" fill="#dd4034"/>
<rect x="178.94" y="327.60" width="4.82" height="21.10" fill="#e54335"/>
<rect x="183.46" y="327.60" width="4.82" height="21.10" fill="#db4133"/>
<rect x="187.99" y="327.60" width="4.82" height="21.10" fill="#e04434"/>
<rect x="192.51" y="327.60" width="4.82" height="21.10" fill="#dc4333"/>
<rect x="197.03" y="327.60" width="4.82" height="21.10" fill="#df4533"/>
<rect x="201.55" y="327.60" width="4.82" height="21.10" fill="#e24834"/>
<rect x="206.07" y="327.60" width="4.82" height="21.10" fill="#e04833"/>
<rect x="210.59" y="327.60" width="4.82" height="21.10" fill="#de4833"/>
<rect x="215.11" y="327.60" width="4.82" height="21.10" fill="#e24b33"/>
<rect x="219.64" y="327.60" width="4.82" height="21.10" fill="#e64d34"/>
<rect x="224.16" y="327.60" width="4.82" height="21.10" fill="#e64e35"/>
<rect x="228.68" y="327.60" width="4.82" height="21.10" fill="#e14e34"/>
<rect x="233.20" y="327.60" width="4.82" height="21.10" fill="#e55034"/>
<rect x="237.72" y="327.60" width="4.82" height="21.10" fill="#f05537"/>
<rect x="242.24" y="327.60" width="4.82" height="21.10" fill="#e55334"/>
<rect x="43.30" y="348.40" width="4.82" height="21.30" fill="#db2139"/>
<rect x="47.82" y="348.40" width="4.82" height="21.30" fill="#e53230"/>
<rect x="52.34" y="348.40" width="4.82" height="21.30" fill="#e43330"/>
<rect x="56.86" y="348.40" width="4.82" height="21.30" fill="#df332f"/>
<rect x="61.39" y="348.40" width="4.82" height="21.30" fill="#e23530"/>
<rect x="65.91" y="348.40" width="4.82" height="21.30" fill="#e03530"/>
<rect x="70.43" y="348.40" width="4.82" height="21.30" fill="#e43831"/>
<rect x="74.95" y="348.40" width="4.82" height="21.30" fill="#e53931"/>
<rect x="79.47" y="348.40" width="4.82" height="21.30" fill="#e13931"/>
<rect x="83.99" y="348.40" width="4.82" height="21.30" fill="#e23b31"/>
<rect x="88.51" y="348.40" width="4.82" height="21.30" fill="#e83e33"/>
<rect x="93.04" y="348.40" width="4.82" height="21.30" fill="#e03d32"/>
<rect x="97.56" y="348.40" width="4.82" height="21.30" fill="#e84034"/>
<rect x="102.08" y="348.40" width="4.82" height="21.30" fill="#ea4234"/>
<rect x="106.60" y="348.40" width="4.82" height="21.30" fill="#eb4335"/>
<rect x="111.12" y="348.40" width="4.82" height="21.30" fill="#e54334"/>
<rect x="115.64" y="348.40" width="4.82" height="21.30" fill="#e74534"/>
<rect x="120.16" y="348.40" width="4.82" height="21.30" fill="#e84635"/>
<rect x="124.69" y="348.40" width="4.82" height="21.30" fill="#e94735"/>
<rect x="129.21" y="348.40" width="4.82" height="21.30" fill="#ed4a36"/>
<rect x="133.73" y="348.40" width="4.82" height="21.30" fill="#ea4b37"/>
<rect x="138.25" y="348.40" width="4.82" height="21.30" fill="#e64a35"/>
<rect x="142.77" y="348.40" width="4.82" height="21.30" fill="#ec4d38"/>
<rect x="147.29" y="348.40" width="4.82" height="21.30" fill="#e84e37"/>
<rect x="151.81" y="348.40" width="4.82" height="21.30" fill="#ea4f37"/>
<rect x="156.34" y="348.40" width="4.82" height="21.30" fill="#ec5139"/>
<rect x="160.86" y="348.40" width="4.82" height="21.30" fill="#e34f37"/>
<rect x="165.38" y="348.40" width="4.82" height="21.30" fill="#ed5439"/>
<rect x="169.90" y="348.40" width="4.82" height="21.30" fill="#ec5539"/>
<rect x="174.42" y="348.40" width="4.82" height="21.30" fill="#ea5539"/>
<rect x="178.94" y="348.40" width="4.82" height="21.30" fill="#ea5739"/>
<rect x="183.46" y="348.40" width="4.82" height="21.30" fill="#eb583a"/>
<rect x="187.99" y="348.40" width="4.82" height="21.30" fill="#e75839"/>
<rect x="192.51" y="348.40" width="4.82" height="21.30" fill="#eb5a3a"/>
<rect x="197.03" y="348.40" width="4.82" height="21.30" fill="#e75a3a"/>
<rect x="201.55" y="348.40" width="4.82" height="21.30" fill="#ec5d3b"/>
<rect x="206.07" y="348.40" width="4.82" height="21.30" fill="#ee5f3b"/>
<rect x="210.59" y="348.40" width="4.82" height="21.30" fill="#eb603c"/>
<rect x="215.11" y="348.40" width="4.82" height="21.30" fill="#ee613c"/>
<rect x="219.64" y="348.40" width="4.82" height="21.30" fill="#f2643d"/>
<rect x="224.16" y="348.40" width="4.82" height="21.30" fill="#f2653e"/>
<rect x="228.68" y="348.40" width="4.82" height="21.30" fill="#ea633c"/>
<rect x="233.20" y="348.40" width="4.82" height="21.30" fill="#f1673e"/>
<rect x="237.72" y="348.40" width="4.82" height="21.30" fill="#ef683e"/>
<rect x="242.24" y="348.40" width="4.82" height="21.30" fill="#e9673d"/>
<rect x="246.76" y="348.40" width="4.82" height="21.30" fill="#ed693e"/>
<rect x="251.29" y="348.40" width="4.82" height="21.30" fill="#ec6a3e"/>
<rect x="255.81" y="348.40" width="4.82" height="21.30" fill="#ea6a3e"/>
<rect x="260.33" y="348.40" width="4.82" height="21.30" fill="#ef6e3f"/>
<rect x="264.85" y="348.40" width="4.82" height="21.30" fill="#f57141"/>
<rect x="43.30" y="369.40" width="4.82" height="21.40" fill="#dc2139"/>
<rect x="47.82" y="369.40" width="4.82" height="21.40" fill="#e43230"/>
<rect x="52.34" y="369.40" width="4.82" height="21.40" fill="#e63331"/>
<rect x="56.86" y="369.40" width="4.82" height="21.40" fill="#e13430"/>
<rect x="61.39" y="369.40" width="4.82" height="21.40" fill="#e63631"/>
<rect x="65.91" y="369.40" width="4.82" height="21.40" fill="#e83732"/>
<rect x="70.43" y="369.40" width="4.82" height="21.40" fill="#e83832"/>
<rect x="74.95" y="369.40" width="4.82" height="21.40" fill="#e33831"/>
<rect x="79.47" y="369.40" width="4.82" height="21.40" fill="#e73b33"/>
<rect x="83.99" y="369.40" width="4.82" height="21.40" fill="#e43b32"/>
<rect x="88.51" y="369.40" width="4.82" height="21.40" fill="#e13b31"/>
<rect x="93.04" y="369.40" width="4.82" height="21.40" fill="#e03c32"/>
<rect x="97.56" y="369.40" width="4.82" height="21.40" fill="#e03d32"/>
<rect x="102.08" y="369.40" width="4.82" height="21.40" fill="#e23f32"/>
<rect x="106.60" y="369.40" width="4.82" height="21.40" fill="#e24033"/>
<rect x="111.12" y="369.40" width="4.82" height="21.40" fill="#e64234"/>
<rect x="115.64" y="369.40" width="4.82" height="21.40" fill="#e84436"/>
<rect x="120.16" y="369.40" width="4.82" height="21.40" fill="#e64435"/>
<rect x="124.69" y="369.40" width="4.82" height="21.40" fill="#e64635"/>
<rect x="129.21" y="369.40" width="4.82" height="21.40" fill="#e94836"/>
<rect x="133.73" y="369.40" width="4.82" height="21.40" fill="#e54735"/>
<rect x="138.25" y="369.40" width="4.82" height="21.40" fill="#e74936"/>
<rect x="142.77" y="369.40" width="4.82" height="21.40" fill="#eb4b38"/>
<rect x="147.29" y="369.40" width="4.82" height="21.40" fill="#e74c37"/>
<rect x="151.81" y="369.40" width="4.82" height="21.40" fill="#e44c36"/>
<rect x="156.34" y="369.40" width="4.82" height="21.40" fill="#ed5039"/>
<rect x="160.86" y="369.40" width="4.82" height="21.40" fill="#ec5039"/>
<rect x="165.38" y="369.40" width="4.82" height="21.40" fill="#e74f38"/>
<rect x="169.90" y="369.40" width="4.82" height="21.40" fill="#e75139"/>
<rect x="174.42" y="369.40" width="4.82" height="21.40" fill="#e95339"/>
<rect x="178.94" y="369.40" width="4.82" height="21.40" fill="#eb5439"/>
<rect x="183.46" y="369.40" width="4.82" height="21.40" fill="#e75439"/>
<rect x="187.99" y="369.40" width="4.82" height="21.40" fill="#e45439"/>
<rect x="192.51" y="369.40" width="4.82" height="21.40" fill="#e75739"/>
<rect x="197.03" y="369.40" width="4.82" height="21.40" fill="#ee5a3c"/>
<rect x="201.55" y="369.40" width="4.82" height="21.40" fill="#e7583a"/>
<rect x="206.07" y="369.40" width="4.82" height="21.40" fill="#eb5b3b"/>
<rect x="210.59" y="369.40" width="4.82" height="21.40" fill="#e75b3b"/>
<rect x="215.11" y="369.40" width="4.82" height="21.40" fill="#e95d3b"/>
<rect x="219.64" y="369.40" width="4.82" height="21.40" fill="#e85d3b"/>
<rect x="224.16" y="369.40" width="4.82" height="21.40" fill="#eb603d"/>
<rect x="228.68" y="369.40" width="4.82" height="21.40" fill="#e85f3c"/>
<rect x="233.20" y="369.40" width="4.82" height="21.40" fill="#e7603d"/>
<rect x="237.72" y="369.40" width="4.82" height="21.40" fill="#e8623d"/>
<rect x="242.24" y="369.40" width="4.82" height="21.40" fill="#e9633d"/>
<rect x="246.76" y="369.40" width="4.82" height="21.40" fill="#ed663f"/>
<rect x="251.29" y="369.40" width="4.82" height="21.40" fill="#e9653e"/>
<rect x="255.81" y="369.40" width="4.82" height="21.40" fill="#e8663d"/>
<rect x="260.33" y="369.40" width="4.82" height="21.40" fill="#ed6a40"/>
<rect x="264.85" y="369.40" width="4.82" height="21.40" fill="#ed6b40"/>
<rect x="269.37" y="369.40" width="4.82" height="21.40" fill="#f16d41"/>
<rect x="273.89" y="369.40" width="4.82" height="21.40" fill="#ea6b40"/>
<rect x="278.41" y="369.40" width="4.82" height="21.40" fill="#ee6d41"/>
<rect x="282.94" y="369.40" width="4.82" height="21.40" fill="#ee6f41"/>
<rect x="287.46" y="369.40" width="4.82" height="21.40" fill="#ea6e40"/>
</g>
</g>
<rect x="43.3" y="165" width="253.2" height="225.6" fill="none" stroke="#1a1a1a" stroke-width="0.9"/>
<!-- axis ticks -->
<g stroke="#222" stroke-width="1">
  <line x1="40" y1="165" x2="44" y2="165"/><line x1="40" y1="205.8" x2="44" y2="205.8"/>
  <line x1="40" y1="246.6" x2="44" y2="246.6"/><line x1="40" y1="287.4" x2="44" y2="287.4"/>
  <line x1="40" y1="328.2" x2="44" y2="328.2"/><line x1="40" y1="369" x2="44" y2="369"/>
  <line x1="61" y1="390.5" x2="61" y2="394.5"/><line x1="116.7" y1="390.5" x2="116.7" y2="394.5"/>
  <line x1="172" y1="390.5" x2="172" y2="394.5"/><line x1="227" y1="390.5" x2="227" y2="394.5"/>
  <line x1="282" y1="390.5" x2="282" y2="394.5"/>
</g>
<g font-family="DejaVu Sans, sans-serif" font-size="15.3" fill="#1a1a1a" text-anchor="end">
  <text x="36.3" y="170.6">5000</text><text x="36.3" y="211.4">4000</text><text x="36.3" y="252.2">3000</text>
  <text x="36.3" y="293">2000</text><text x="36.3" y="333.8">1000</text><text x="36.3" y="374.6">1000</text>
</g>
<g font-family="DejaVu Sans, sans-serif" font-size="15.3" fill="#1a1a1a" text-anchor="middle">
  <text x="60.5" y="411.2">10-20</text><text x="116.7" y="411.2">400</text><text x="172" y="411.2">600</text>
  <text x="227" y="411.2">800</text><text x="282" y="411.2">1000</text>
</g>
<text x="169.7" y="433.3" font-family="Liberation Sans, Noto Sans CJK SC, sans-serif" font-size="16.5" fill="#1a1a1a" text-anchor="middle">分发数</text>
<text x="169.5" y="157.5" font-family="Liberation Sans, Noto Sans CJK SC, sans-serif" font-size="19.9" font-weight="500" fill="#111" stroke="#111" stroke-width="0.55" text-anchor="middle">并发场景性能热力图</text>
<text x="60.5" y="370.8" font-family="Liberation Sans, sans-serif" font-size="17" fill="#fff">BeanUtilits</text>
<text x="208.3" y="214.6" font-family="Liberation Sans, Noto Sans CJK SC, sans-serif" font-size="16.5" font-weight="500" fill="#f8f8f8">手动映辂</text>
<g stroke="#e6e6e6" fill="none">
  <line x1="194.7" y1="223.3" x2="161" y2="258" stroke-width="1.3"/>
  <polyline points="160.6,252.6 160.3,258.6 166.6,258.6" stroke-width="1.9" stroke-linejoin="miter"/>
</g>
<polygon points="160.3,258.6 160.6,254.8 164.3,258.5" fill="#e6e6e6"/>
<!-- colorbar -->
<defs><linearGradient id="cb" x1="0" y1="0" x2="0" y2="1">
<stop offset="0.000" stop-color="#faebdd"/>
<stop offset="0.025" stop-color="#f9e2d0"/>
<stop offset="0.050" stop-color="#f8d9c3"/>
<stop offset="0.075" stop-color="#f8d0b4"/>
<stop offset="0.100" stop-color="#f7c6a6"/>
<stop offset="0.125" stop-color="#f7bf9d"/>
<stop offset="0.150" stop-color="#f6b894"/>
<stop offset="0.175" stop-color="#f6b18b"/>
<stop offset="0.200" stop-color="#f6aa83"/>
<stop offset="0.225" stop-color="#f6a37b"/>
<stop offset="0.250" stop-color="#f69c73"/>
<stop offset="0.275" stop-color="#f6956d"/>
<stop offset="0.300" stop-color="#f58c64"/>
<stop offset="0.325" stop-color="#f4815a"/>
<stop offset="0.350" stop-color="#f37651"/>
<stop offset="0.375" stop-color="#f26a49"/>
<stop offset="0.400" stop-color="#f05e43"/>
<stop offset="0.425" stop-color="#ed5240"/>
<stop offset="0.450" stop-color="#ea463f"/>
<stop offset="0.475" stop-color="#e53a41"/>
<stop offset="0.500" stop-color="#dd2c45"/>
<stop offset="0.525" stop-color="#d3224a"/>
<stop offset="0.550" stop-color="#c91a50"/>
<stop offset="0.575" stop-color="#bc1755"/>
<stop offset="0.600" stop-color="#ae1859"/>
<stop offset="0.625" stop-color="#a01a5b"/>
<stop offset="0.650" stop-color="#921c5b"/>
<stop offset="0.675" stop-color="#841e5a"/>
<stop offset="0.700" stop-color="#761f58"/>
<stop offset="0.725" stop-color="#691f55"/>
<stop offset="0.750" stop-color="#5c1f51"/>
<stop offset="0.775" stop-color="#4f1d4c"/>
<stop offset="0.800" stop-color="#451c47"/>
<stop offset="0.825" stop-color="#3b1b42"/>
<stop offset="0.850" stop-color="#32183c"/>
<stop offset="0.875" stop-color="#2a1536"/>
<stop offset="0.900" stop-color="#211230"/>
<stop offset="0.925" stop-color="#190f2a"/>
<stop offset="0.950" stop-color="#110c24"/>
<stop offset="0.975" stop-color="#0a091f"/>
<stop offset="1.000" stop-color="#03051a"/>
</linearGradient></defs>
<rect x="313.2" y="164.8" width="12.8" height="225.7" fill="url(#cb)"/>
<path d="M313.6,390.5 V165.2 H326" fill="none" stroke="#2a2a2a" stroke-width="0.9"/>

<!-- radar -->
<text x="555" y="157" font-family="Liberation Sans, Noto Sans CJK SC, sans-serif" font-size="20" font-weight="500" fill="#111" stroke="#111" stroke-width="0.35" text-anchor="middle">优化建议</text>
<polygon points="555.6,215.9 629.9,253.0 626.0,336.5 555.6,357.2 478.8,340.2 478.9,251.6" fill="#5d9bd2" fill-opacity="0.5"/>
<polygon points="555.6,239.3 621.2,258.0 598.5,320.6 555.6,350.8 503.7,325.8 508.7,268.8" fill="#f8aa67" fill-opacity="0.7"/>
<g opacity="0.85">
<path d="M555.60,271.10 A27.78,27.78 0 0 1 577.08,283.50 A32.24,32.24 0 0 1 577.08,308.30 A27.78,27.78 0 0 1 555.60,320.70 A27.78,27.78 0 0 1 534.12,308.30 A32.24,32.24 0 0 1 534.12,283.50 A27.78,27.78 0 0 1 555.60,271.10Z" fill="none" stroke="#b4b4b4" stroke-width="1"/>
<path d="M555.60,246.60 A55.22,55.22 0 0 1 598.30,271.25 A64.09,64.09 0 0 1 598.30,320.55 A55.22,55.22 0 0 1 555.60,345.20 A55.22,55.22 0 0 1 512.90,320.55 A64.09,64.09 0 0 1 512.90,271.25 A55.22,55.22 0 0 1 555.60,246.60Z" fill="none" stroke="#b4b4b4" stroke-width="1"/>
<path d="M555.60,222.10 A82.66,82.66 0 0 1 619.51,259.00 A95.94,95.94 0 0 1 619.51,332.80 A82.66,82.66 0 0 1 555.60,369.70 A82.66,82.66 0 0 1 491.69,332.80 A95.94,95.94 0 0 1 491.69,259.00 A82.66,82.66 0 0 1 555.60,222.10Z" fill="none" stroke="#b4b4b4" stroke-width="1"/>
<path d="M555.60,199.00 A108.53,108.53 0 0 1 639.52,247.45 A125.97,125.97 0 0 1 639.52,344.35 A108.53,108.53 0 0 1 555.60,392.80 A108.53,108.53 0 0 1 471.68,344.35 A125.97,125.97 0 0 1 471.68,247.45 A108.53,108.53 0 0 1 555.60,199.00Z" fill="none" stroke="#9a9a9a" stroke-width="1.1"/>
<line x1="555.6" y1="295.9" x2="555.6" y2="199.0" stroke="#b4b4b4" stroke-width="1"/>
<line x1="555.6" y1="295.9" x2="639.5" y2="247.4" stroke="#b4b4b4" stroke-width="1"/>
<line x1="555.6" y1="295.9" x2="639.5" y2="344.3" stroke="#b4b4b4" stroke-width="1"/>
<line x1="555.6" y1="295.9" x2="555.6" y2="392.8" stroke="#b4b4b4" stroke-width="1"/>
<line x1="555.6" y1="295.9" x2="471.7" y2="344.3" stroke="#b4b4b4" stroke-width="1"/>
<line x1="555.6" y1="295.9" x2="471.7" y2="247.4" stroke="#b4b4b4" stroke-width="1"/>
</g>
<polygon points="555.6,215.9 629.9,253.0 626.0,336.5 555.6,357.2 478.8,340.2 478.9,251.6" fill="none" stroke="#135f9f" stroke-width="2.6" stroke-linejoin="round"/>
<polygon points="555.6,239.3 621.2,258.0 598.5,320.6 555.6,350.8 503.7,325.8 508.7,268.8" fill="none" stroke="#ff7b10" stroke-width="2.2" stroke-linejoin="round"/>
<circle cx="555.6" cy="215.9" r="3.9" fill="#135f9f"/>
<circle cx="629.9" cy="253.0" r="3.9" fill="#135f9f"/>
<circle cx="626.0" cy="336.5" r="3.9" fill="#135f9f"/>
<circle cx="555.6" cy="357.2" r="3.9" fill="#135f9f"/>
<circle cx="478.8" cy="340.2" r="3.9" fill="#135f9f"/>
<circle cx="478.9" cy="251.6" r="3.9" fill="#135f9f"/>
<circle cx="555.6" cy="239.3" r="3.8" fill="#ff7b10"/>
<circle cx="621.2" cy="258.0" r="3.8" fill="#ff7b10"/>
<circle cx="598.5" cy="320.6" r="3.8" fill="#ff7b10"/>
<circle cx="555.6" cy="350.8" r="3.8" fill="#ff7b10"/>
<circle cx="503.7" cy="325.8" r="3.8" fill="#ff7b10"/>
<circle cx="508.7" cy="268.8" r="3.8" fill="#ff7b10"/>
<g font-family="Liberation Sans, Noto Sans CJK SC, sans-serif" font-size="16" fill="#222">
  <text x="555.5" y="186.3" text-anchor="middle">执行速度</text>
  <text x="647.1" y="245.8">内存占用</text>
  <text x="647.1" y="356.3">易用性</text>
  <text x="555.8" y="417" text-anchor="middle">扩展性</text>
  <text x="464.9" y="356.3" text-anchor="end">兼同性</text>
  <text x="464.5" y="245.8" text-anchor="end">学习成本</text>
</g>
<!-- legend -->
<rect x="623.5" y="159.3" width="110" height="52" rx="3" fill="#fbfbfb" fill-opacity="0.9" stroke="#d2d2d2" stroke-width="1"/>
<line x1="628.4" y1="172.9" x2="660.9" y2="172.9" stroke="#135f9f" stroke-width="2.4"/>
<circle cx="644.8" cy="172.9" r="3.6" fill="#135f9f"/>
<line x1="628.4" y1="196.7" x2="660.9" y2="196.7" stroke="#ff7b10" stroke-width="2.4"/>
<circle cx="644.8" cy="196.7" r="3.6" fill="#ff7b10"/>
<text x="672.6" y="178.3" font-family="Liberation Sans, sans-serif" font-size="14.2" fill="#222">BeanUtils</text>
<text x="672.6" y="202.3" font-family="Liberation Sans, Noto Sans CJK SC, sans-serif" font-size="14.8" fill="#222">优化方案</text>
</svg>
<div class="t h1">测试环境配置</div>
<div class="t h2">JDK 11<span class="c">、</span><span style="margin-left:-3px">4</span><span class="c">核</span>CPU<span class="c">、</span>8GB<span class="c" style="margin-left:-2.5px">内存</span><span class="c" style="margin-left:3px">、</span><span style="margin-left:1px;font-size:24.9px">Windows 10</span></div>
</body></html>
